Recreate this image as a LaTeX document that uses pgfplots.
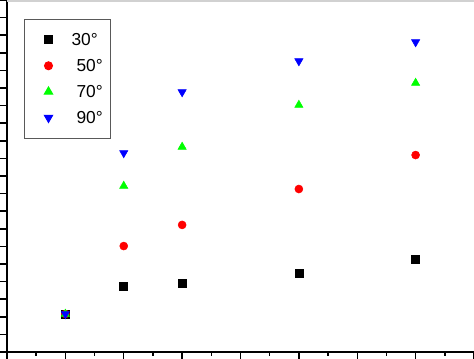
\documentclass[border=0pt]{standalone}
\usepackage{pgfplots}
\pgfplotsset{compat=1.18}
\usepackage{fontspec}
\setmainfont{Liberation Sans}
\newcommand{\lgs}{\rule[-1.35pt]{0pt}{12pt}}
\begin{document}
\begin{tikzpicture}
\begin{axis}[
  scale only axis,
  width=350.25pt, height=264pt,
  xmin=0, xmax=8, ymin=0, ymax=20,
  axis x line*=bottom, axis y line*=left,
  axis line style={line width=1.2pt, -},
  xtick={0,1,...,8}, minor x tick num=1,
  ytick={0,1,...,20},
  xticklabel={\relax}, yticklabel={\relax},
  xticklabel style={yshift=20pt}, yticklabel style={xshift=20pt},
  tick align=outside,
  major tick length=5.25pt, minor tick length=3pt,
  every tick/.style={black, line width=1.1pt},
  clip=false,
  legend style={
    at={(0.0364,0.9468)}, anchor=north west,
    draw=black!65, line width=0.75pt,
    inner xsep=6pt, inner ysep=9.4pt,
    font=\fontsize{13}{15}\selectfont,
    nodes={inner sep=0pt},
    row sep=7.3pt, column sep=9pt,
  },
  legend cell align=left,
  legend image code/.code={\path[draw=none,fill=none] (0pt,0pt) -- (24pt,0pt); \draw[#1] plot coordinates {(12pt,0pt)};},
]
\addplot[only marks, mark=square*, mark size=3pt, color=black]
  coordinates {(1,2.16) (2,3.75) (3,3.92) (5,4.49) (7,5.28)};
\addlegendentry{\lgs\hspace{-3.75pt}30°}
\addplot[only marks, mark=*, mark size=3pt, color=red]
  coordinates {(1,2.16) (2,6.02) (3,7.22) (5,9.26) (7,11.19)};
\addlegendentry{\lgs 50°}
\addplot[only marks, mark=triangle*, mark size=3.6pt, color=green]
  coordinates {(1,2.16) (2,9.43) (3,11.65) (5,14.03) (7,15.28)};
\addlegendentry{\lgs 70°}
\addplot[only marks, mark=triangle*, mark size=3.6pt, color=blue, mark options={rotate=180}]
  coordinates {(1,2.16) (2,11.31) (3,14.77) (5,16.53) (7,17.61)};
\addlegendentry{\lgs 90°}
\draw[black!18, line width=2.6pt] (rel axis cs:0,1) -- (rel axis cs:1,1);
\coordinate (ll) at (rel axis cs:0,0);
\coordinate (ur) at (rel axis cs:1,1);
\end{axis}
\pgfresetboundingbox
\path ([shift={(-5.25pt,-5.25pt)}]ll) rectangle (ur);
\end{tikzpicture}
\end{document}
